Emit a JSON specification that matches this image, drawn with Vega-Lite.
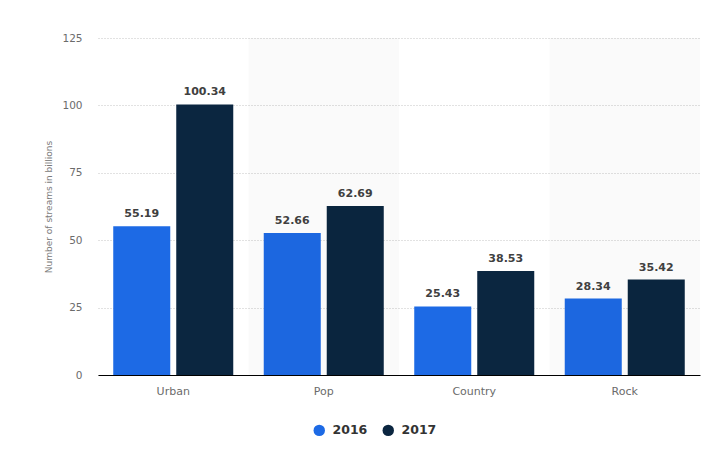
{
  "$schema": "https://vega.github.io/schema/vega-lite/v6.json",
  "width": 602,
  "height": 337,
  "autosize": "none",
  "padding": {"left": 98, "top": 38, "right": 24, "bottom": 91},
  "background": "white",
  "config": {
    "font": "DejaVu Sans",
    "view": {"stroke": null}
  },
  "datasets": {
    "streams": [
      {"genre": "Urban", "year": "2016", "value": 55.19},
      {"genre": "Urban", "year": "2017", "value": 100.34},
      {"genre": "Pop", "year": "2016", "value": 52.66},
      {"genre": "Pop", "year": "2017", "value": 62.69},
      {"genre": "Country", "year": "2016", "value": 25.43},
      {"genre": "Country", "year": "2017", "value": 38.53},
      {"genre": "Rock", "year": "2016", "value": 28.34},
      {"genre": "Rock", "year": "2017", "value": 35.42}
    ],
    "bands": [
      {"genre": "Pop"},
      {"genre": "Rock"}
    ]
  },
  "layer": [
    {
      "data": {"name": "streams"},
      "mark": {"type": "bar"},
      "encoding": {
        "x": {
          "field": "genre", "type": "nominal",
          "sort": ["Urban", "Pop", "Country", "Rock"],
          "scale": {"domain": ["Urban", "Pop", "Country", "Rock"], "paddingInner": 0, "paddingOuter": 0},
          "axis": {"title": null, "labelAngle": 0, "ticks": false, "domain": true, "domainColor": "#000000", "domainWidth": 1.2, "labelColor": "#6b6b6b", "labelFontSize": 11, "labelPadding": 10, "grid": false}
        },
        "xOffset": {"field": "year", "type": "nominal", "scale": {"paddingInner": 0.095, "paddingOuter": 0.242}},
        "y": {
          "field": "value", "type": "quantitative",
          "scale": {"domain": [0, 125], "nice": false},
          "axis": {"title": "Number of streams in billions", "titleFontSize": 9, "titleFontWeight": "normal", "titleColor": "#7a7a7a", "titlePadding": 8, "values": [0, 25, 50, 75, 100, 125], "ticks": false, "domain": false, "labelColor": "#6b6b6b", "labelFontSize": 10.5, "labelPadding": 16, "grid": true, "gridColor": "#c4c4c4", "gridDash": [1, 2], "gridWidth": 1}
        },
        "color": {
          "field": "year", "type": "nominal",
          "scale": {"domain": ["2016", "2017"], "range": ["#1d6ae5", "#0b2640"]},
          "legend": {"title": null, "orient": "none", "legendX": 215, "legendY": 386, "direction": "horizontal", "symbolType": "circle", "symbolSize": 130, "symbolStrokeWidth": 0, "labelFontSize": 12.5, "labelFontWeight": "bold", "labelColor": "#333333", "columnPadding": 14, "labelOffset": 7}
        }
      }
    },
    {
      "data": {"name": "bands"},
      "mark": {"type": "rect", "color": "#000000", "opacity": 0.02},
      "encoding": {
        "x": {"field": "genre", "type": "nominal", "sort": ["Urban", "Pop", "Country", "Rock"]},
        "y": {"datum": 125, "type": "quantitative", "scale": {"domain": [0, 125], "nice": false}},
        "y2": {"datum": 0}
      }
    },
    {
      "data": {"name": "streams"},
      "mark": {"type": "text", "dy": -12, "fontSize": 11, "fontWeight": "bold", "color": "#404040"},
      "encoding": {
        "x": {"field": "genre", "type": "nominal", "sort": ["Urban", "Pop", "Country", "Rock"]},
        "xOffset": {"field": "year", "type": "nominal"},
        "y": {"field": "value", "type": "quantitative", "scale": {"domain": [0, 125], "nice": false}},
        "text": {"field": "value", "type": "quantitative", "format": ".2f"}
      }
    }
  ]
}
